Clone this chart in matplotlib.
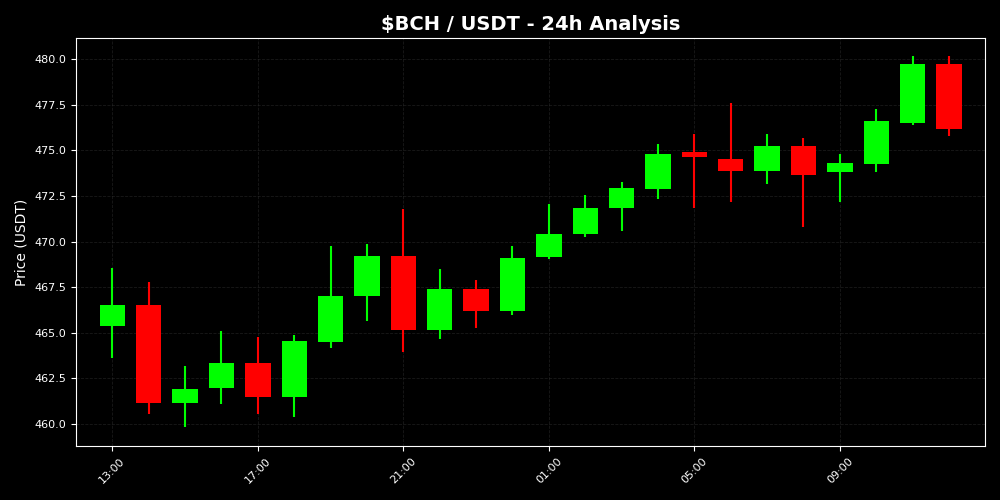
"""
Candlestick chart of BCH / USDT over 24 hourly candles, drawn with matplotlib.
"""

import numpy as np
import pandas as pd
import matplotlib
matplotlib.use("Agg")
import matplotlib.pyplot as plt
import matplotlib.dates as mdates

# hourly candles, 13:00 -> 12:00 next day
times = pd.date_range("2024-01-01 13:00", periods=24, freq="h")
opens = [465.37, 466.52, 461.17, 462.00, 463.32, 461.50, 464.51, 467.00,
         469.20, 465.15, 467.40, 466.21, 469.15, 470.40, 471.84, 472.90,
         474.88, 474.54, 473.88, 475.23, 473.79, 474.26, 476.47, 479.73]
closes = [466.52, 461.17, 461.92, 463.32, 461.50, 464.55, 467.01, 469.20,
          465.15, 467.40, 466.21, 469.10, 470.41, 471.84, 472.93, 474.79,
          474.62, 473.88, 475.23, 473.66, 474.30, 476.60, 479.73, 476.19]
highs = [468.53, 467.76, 463.18, 465.10, 464.75, 464.86, 469.75, 469.86,
         471.78, 468.49, 467.89, 469.75, 472.05, 472.55, 473.24, 475.37,
         475.87, 477.59, 475.87, 475.65, 474.78, 477.26, 480.16, 480.16]
lows = [463.60, 460.58, 459.82, 461.08, 460.58, 460.40, 464.18, 465.66,
        463.95, 464.68, 465.29, 465.99, 469.06, 470.23, 470.60, 472.31,
        471.82, 472.19, 473.15, 470.78, 472.19, 473.79, 476.40, 475.80]

UP = "#00ff00"
DOWN = "#ff0000"


def plot_candles():
    fig, ax = plt.subplots(figsize=(10, 5), dpi=100)
    fig.patch.set_facecolor("black")
    ax.set_facecolor("black")

    x = mdates.date2num(times)
    width = 0.7 / 24

    for xi, o, c, h, l in zip(x, opens, closes, highs, lows):
        color = UP if c >= o else DOWN
        # wick
        ax.vlines(xi, l, h, color=color, linewidth=1.5, zorder=2)
        # body
        ax.bar(xi, abs(c - o), width, bottom=min(o, c), color=color, zorder=3)

    ax.set_xlim(x[0] - 1.0 / 24, x[-1] + 0.99 / 24)
    ax.set_ylim(458.8, 481.15)
    ax.set_yticks(np.arange(460, 480.1, 2.5))

    ax.xaxis.set_major_locator(mdates.HourLocator(byhour=range(1, 24, 4)))
    ax.xaxis.set_major_formatter(mdates.DateFormatter("%H:%M"))
    plt.setp(ax.get_xticklabels(), rotation=45)

    ax.grid(True, color="#333333", linestyle="--", linewidth=0.6, alpha=0.5)
    ax.set_axisbelow(True)

    for spine in ax.spines.values():
        spine.set_color("white")
    ax.tick_params(colors="white", labelsize=8)

    ax.set_title("$BCH / USDT - 24h Analysis", color="white", fontsize=14, fontweight="bold")
    ax.set_ylabel("Price (USDT)", color="white", fontsize=10)

    fig.subplots_adjust(left=0.076, right=0.985, top=0.924, bottom=0.108)
    fig.savefig("out.png", facecolor=fig.get_facecolor())


if __name__ == "__main__":
    plot_candles()
